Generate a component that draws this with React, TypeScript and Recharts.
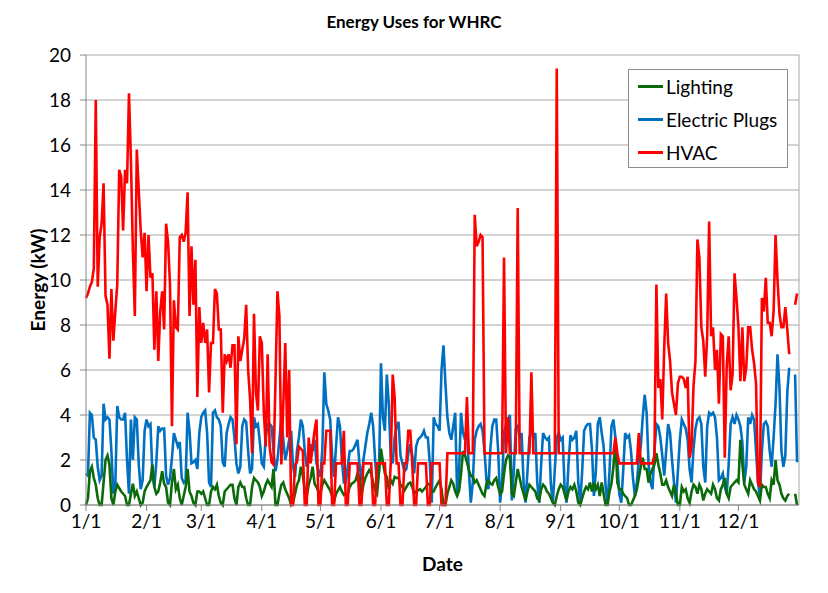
import React from 'react';
import { LineChart, Line, XAxis, YAxis, CartesianGrid, ReferenceLine, Label } from 'recharts';

const FONT = 'Lato, "Open Sans", sans-serif';

// x axis: day of year (0 = 1/1)
const monthStarts = [0, 31, 59, 90, 120, 151, 181, 212, 243, 273, 304, 334];
const monthLabels = ['1/1', '2/1', '3/1', '4/1', '5/1', '6/1', '7/1', '8/1', '9/1', '10/1', '11/1', '12/1'];
const yTicks = [0, 2, 4, 6, 8, 10, 12, 14, 16, 18, 20];

// Lighting (kW), one value per day
const lighting: (number | null)[] = [
  0, 0.3, 1.5, 1.7, 1.2, 0.9, 0.3, 0, 0, 1.0, 2.0, 2.2, 1.8, 0.3, 0, 0.6, 0.9, 0.75, 0.6, 0.5, 0.4, 0, 0, 0.5, 0.95, 0.4, 0.6, 0.3, 0, 0.1, 0.6,
  0.8, 0.95, 1.1, 1.8, 0.8, 0.5, 0.6, 1.0, 1.5, 0.95, 0.8, 0.1, 0, 1.0, 1.6, 0.7, 0.9, 0.3, 0, 0.4, 0.8, 1.6, 0.6, 0.4, 0.1, 0, 0.6, 0.6,
  0.5, 0.6, 0.3, 0, 0, 0.6, 0.8, 0.7, 0.9, 0.4, 0.1, 0, 0.6, 0.7, 0.8, 0.9, 0.9, 0.3, 0, 0.8, 1.0, 0.8, 0.8, 0.3, 0, 0, 0.8, 1.2, 1.1, 1.0, 0.8,
  0.4, 0.6, 0.9, 1.1, 0.95, 0.8, 1.6, 0, 0, 0.5, 0.9, 1.0, 0.7, 0.5, 0.3, 0, 0.1, 0.5, 0.9, 1.1, 1.7, 1.3, 0.7, 0.4, 0.9, 1.2, 1.7, 0.95, 0.8, 0.6,
  0.5, 0.9, 1.1, 0.95, 0.8, 0.65, 0.4, 0.15, 0.5, 0.65, 0.8, 0.6, 0.45, 0.5, 0.5, 0.8, 0.95, 1.0, 1.1, 1.4, 1.25, 0.4, 0.9, 1.2, 1.4, 1.55, 1.4, 1.0, 0.65, 0.5, 1.5,
  2.5, 1.9, 1.4, 1.25, 0.7, 1.1, 0.95, 1.25, 1.2, 1.2, 0.9, 0.8, 0.65, 0.8, 0.95, 1.0, 0.8, 0.5, 0.6, 0.65, 0.7, 0.6, 0.7, 0.8, 0.95, 0.9, 0.6, 0.6, 0.8, 0.95,
  1.1, 0.7, 0, 0, 0.5, 0.8, 1.1, 0.95, 0.6, 0.4, 0.65, 1.4, 2.4, 2.2, 1.9, 1.55, 1.3, 1.25, 1.0, 1.1, 0.9, 0.7, 0.5, 0.4, 0.95, 1.1, 0.95, 0.9, 1.1, 1.2, 0.8,
  0.5, 0.6, 1.4, 2.0, 2.2, 2.1, 0.5, 0.4, 1.0, 1.6, 1.2, 0.8, 0.5, 0.2, 0.6, 0.9, 0.8, 0.7, 0.6, 0.3, 0.2, 0.7, 0.9, 0.8, 0.6, 0.5, 0.3, 0.1, 0, 0.4, 0.7,
  0.9, 0.8, 0.5, 0.2, 0.6, 0.8, 0.7, 0.9, 0.6, 0.1, 0, 0.3, 0.6, 0.8, 0.7, 1.0, 0.6, 1.0, 0.7, 0.9, 0.4, 1.0, 0.5, 0, 0, 0.6, 0.95, 1.7, 2.9, 1.0,
  0.7, 0.7, 0.5, 0.4, 0.3, 0, 0, 0.2, 0.4, 0.7, 1.2, 1.7, 2.1, 1.6, 1.6, 1.0, 1.4, 1.6, 1.8, 2.3, 1.8, 1.4, 0.9, 0.9, 1.1, 0.8, 0.6, 0.4, 0.9, 0.5, 0,
  0, 0.8, 0.6, 0.7, 0.3, 0.1, 0.6, 0.9, 0.8, 0.5, 0.9, 0.7, 0.2, 0.5, 0.7, 0.6, 0.5, 0.9, 0.7, 0.3, 0.2, 0.7, 0.9, 1.2, 0.5, 0.3, 0.8, 0.9, 1.0, 1.1,
  1.0, 2.9, 1.8, 0.9, 0.7, 0.5, 1.1, 0.9, 0.7, 0.6, 0.4, 0.2, 0.9, 0.8, 0.8, 0.5, 0.3, 1.1, 0.9, 2.0, 1.1, 0.9, 0.5, 0.3, 0.2, 0.4, 0.5, null, null, 0.5, 0,
];

// Electric Plugs (kW)
const plugs: (number | null)[] = [
  1.4, 1.3, 4.1, 4.0, 3.0, 2.9, 1.7, 1.1, 1.3, 4.5, 3.8, 3.9, 3.8, 2.4, 0.5, 0.9, 4.4, 3.9, 3.8, 3.8, 4.1, 2.0, 0.5, 3.8, 2.0, 3.9, 3.8, 1.8, 0.7, 1.1, 3.3,
  3.8, 3.5, 3.6, 1.4, 0.8, 1.9, 3.5, 3.3, 3.4, 3.4, 1.3, 0.9, 1.2, 2.1, 3.2, 2.9, 2.6, 2.8, 1.2, 1.0, 1.1, 4.1, 3.3, 1.85, 1.9, 2.0, 1.6, 3.2,
  3.9, 4.1, 4.2, 3.2, 1.0, 0.8, 4.1, 4.2, 3.9, 3.8, 3.5, 1.9, 1.7, 3.2, 3.6, 3.9, 3.8, 3.0, 1.85, 1.4, 1.7, 3.5, 3.8, 3.7, 2.4, 1.4, 1.6, 3.9, 3.5, 3.6, 2.8,
  1.85, 1.7, 3.0, 3.6, 3.6, 3.5, 2.4, 1.5, 2.0, 2.9, 3.9, 2.9, 2.0, 2.4, 2.9, 3.3, 1.7, 1.25, 2.4, 3.0, 3.8, 3.5, 2.4, 1.7, 2.2, 2.7, 2.4, 2.9, 1.85, 1.5,
  1.25, 2.5, 5.9, 4.5, 4.2, 3.8, 2.2, 1.25, 2.6, 3.9, 3.5, 2.0, 1.0, 1.0, 1.7, 2.4, 2.4, 2.5, 2.7, 2.9, 1.8, 1.1, 2.0, 2.6, 3.2, 3.6, 4.1, 3.5, 2.0, 0.9, 1.5,
  6.3, 3.9, 3.3, 5.8, 4.5, 2.2, 1.85, 3.0, 3.5, 3.7, 2.2, 1.85, 1.5, 1.6, 2.3, 2.7, 2.2, 1.4, 2.6, 2.9, 3.0, 3.1, 3.3, 3.0, 3.0, 1.85, 0.1, 3.9, 3.6, 3.5,
  3.3, 6.0, 7.1, 5.4, 3.9, 3.2, 2.9, 3.5, 4.1, 0.5, 1.6, 4.1, 3.2, 2.9, 3.5, 1.5, 0.1, 1.0, 2.9, 3.3, 3.5, 3.6, 3.3, 2.4, 1.1, 0.7, 2.5, 3.5, 3.8, 3.8, 2.4,
  0.1, 1.0, 3.2, 3.6, 3.8, 4.0, 0.2, 1.5, 3.4, 3.5, 3.0, 3.2, 1.0, 0.1, 1.5, 3.0, 3.3, 3.0, 3.2, 1.0, 0.1, 1.8, 3.2, 3.0, 2.9, 3.0, 0.9, 0.1, 1.6, 3.0, 3.2,
  2.9, 3.0, 0.8, 0.1, 1.8, 3.1, 2.9, 3.0, 3.3, 1.0, 0.1, 1.5, 3.3, 3.5, 3.6, 3.6, 2.5, 0.4, 1.5, 3.6, 3.9, 3.2, 2.6, 0.8, 0.1, 1.5, 3.5, 3.8, 3.0, 2.0,
  0.5, 0.1, 1.5, 3.2, 3.0, 3.1, 2.4, 1.2, 0.4, 1.0, 2.0, 2.6, 3.9, 4.9, 4.1, 1.8, 1.0, 0.7, 2.4, 3.6, 3.5, 3.0, 2.2, 1.3, 2.4, 3.6, 3.2, 2.0, 1.0, 0.1, 1.5,
  2.9, 3.8, 3.6, 3.4, 2.9, 1.6, 1.0, 2.5, 3.4, 3.8, 3.9, 3.6, 1.7, 1.0, 3.5, 4.1, 4.0, 4.1, 3.9, 3.0, 1.1, 1.2, 1.4, 0.8, 0.5, 1.8, 3.6, 3.9, 3.6, 4.0,
  3.8, 3.5, 2.8, 1.0, 1.7, 3.9, 3.6, 4.0, 3.8, 2.4, 1.0, 0.4, 2.4, 3.6, 3.7, 3.5, 2.4, 1.7, 3.0, 4.5, 6.7, 5.2, 2.4, 1.7, 2.2, 5.0, 6.1, null, null, 5.8, 1.9,
];

// HVAC (kW)
const hvac: (number | null)[] = [
  9.2, 9.4, 9.7, 9.9, 10.5, 18.0, 9.7, 11.9, 12.5, 14.3, 9.3, 8.9, 6.5, 9.6, 7.3, 8.6, 9.8, 14.9, 14.6, 12.2, 14.9, 14.3, 18.3, 15.3, 11.3, 8.4, 15.8, 14.0, 12.2, 11.0, 12.1,
  9.5, 12.0, 10.1, 10.3, 6.9, 9.5, 6.4, 8.6, 9.5, 7.8, 12.5, 11.7, 9.8, 3.5, 9.1, 7.9, 7.8, 11.9, 12.0, 11.7, 12.1, 13.9, 8.4, 11.5, 8.9, 10.9, 4.8, 8.8,
  7.2, 8.1, 7.2, 7.8, 5.0, 7.2, 7.2, 9.6, 9.4, 7.8, 7.8, 4.1, 6.7, 6.4, 6.7, 6.1, 7.1, 7.1, 2.7, 7.5, 6.4, 6.9, 7.4, 8.9, 6.0, 4.7, 2.3, 8.5, 5.0, 4.2, 7.5,
  7.2, 4.2, 2.6, 6.7, 2.6, 1.9, 1.8, 5.5, 9.5, 8.4, 1.8, 4.5, 7.2, 3.0, 6.0, 0, 0, 1.8, 1.9, 2.6, 2.5, 2.4, 0, 0, 3.0, 1.85, 2.6, 3.3, 3.8, 0,
  0, 1.85, 1.85, 3.3, 3.3, 3.3, 0, 0, 1.85, 1.85, 1.85, 1.85, 3.3, 0, 0, 1.85, 1.85, 1.85, 1.85, 1.85, 0, 0, 1.85, 1.85, 1.85, 1.85, 1.85, 0, 0, 1.85, 1.85,
  1.85, 1.85, 1.85, 0, 0, 1.85, 5.8, 4.8, 1.85, 1.85, 0, 0, 1.85, 1.85, 3.3, 3.3, 1.85, 0, 0, 1.85, 1.85, 1.85, 1.85, 1.85, 0, 0, 1.85, 1.85, 1.85, 1.85,
  1.85, 0, 0, 0, 2.3, 2.3, 2.3, 2.3, 2.3, 2.3, 2.3, 2.3, 2.3, 2.3, 4.8, 2.3, 2.3, 2.3, 12.9, 11.5, 11.7, 12.0, 11.9, 2.3, 2.3, 2.3, 2.3, 2.3, 2.3, 2.3, 2.3,
  2.3, 2.3, 11.0, 2.3, 3.9, 2.3, 2.3, 2.3, 2.3, 13.2, 2.3, 2.3, 2.3, 2.3, 2.3, 2.3, 5.9, 2.3, 2.3, 2.3, 2.3, 2.3, 2.3, 2.3, 2.3, 2.3, 2.3, 2.3, 2.3, 19.4, 2.3,
  2.3, 2.3, 2.3, 2.3, 2.3, 2.3, 2.3, 2.3, 2.3, 2.3, 2.3, 2.3, 2.3, 2.3, 2.3, 2.3, 2.3, 2.3, 2.3, 2.3, 2.3, 2.3, 2.3, 2.3, 2.3, 2.3, 2.3, 2.3, 3.0, 2.3,
  1.85, 1.85, 1.85, 1.85, 1.85, 1.85, 1.85, 1.85, 1.85, 1.85, 3.2, 1.85, 1.85, 1.85, 1.85, 1.85, 1.85, 1.85, 2.2, 9.8, 5.2, 5.6, 3.8, 7.0, 9.4, 7.2, 6.4, 5.0, 4.5, 4.0, 5.4,
  5.7, 5.7, 5.6, 5.2, 5.7, 2.1, 2.6, 5.3, 6.4, 11.8, 11.0, 7.9, 7.3, 5.7, 7.5, 12.6, 7.5, 7.9, 6.0, 6.9, 4.5, 7.6, 7.5, 2.1, 6.2, 7.5, 5.1, 5.8, 10.3, 9.2,
  7.9, 5.5, 7.9, 5.5, 6.1, 7.9, 7.9, 6.9, 6.3, 5.4, 1.0, 0.8, 9.2, 8.6, 10.1, 8.1, 8.1, 7.5, 8.6, 12.0, 10.0, 8.5, 7.9, 7.9, 8.8, 7.8, 6.7, null, null, 8.9, 9.4,
];

const days = lighting.map((_, i) => i);
const data = days.map((d, i) => ({ day: d, lighting: lighting[i], plugs: plugs[i], hvac: hvac[i] }));

const series = [
  { key: 'lighting', name: 'Lighting', color: '#0b6b0b' },
  { key: 'plugs', name: 'Electric Plugs', color: '#0070c0' },
  { key: 'hvac', name: 'HVAC', color: '#ff0000' },
];

const GRID = '#a6a6a6';
const AXIS = '#868686';

export default function App() {
  return (
    <div style={{ position: 'relative', width: 812, height: 577, fontFamily: FONT, background: '#fff' }}>
      <div
        style={{
          position: 'absolute', top: 4, left: 0, width: 812, textAlign: 'center',
          fontWeight: 700, fontSize: 17, lineHeight: '20px', color: '#000',
        }}
      >
        Energy Uses for WHRC
      </div>
      <LineChart width={812} height={577} data={data} margin={{ top: 47, right: 21, bottom: 0, left: 0 }}>
        <CartesianGrid vertical={false} stroke={GRID} strokeWidth={1} />
        <XAxis
          dataKey="day"
          type="number"
          domain={[0, 365]}
          ticks={monthStarts}
          tickFormatter={(v: number) => monthLabels[monthStarts.indexOf(v)] ?? ''}
          height={80}
          axisLine={{ stroke: AXIS }}
          tickLine={{ stroke: AXIS }}
          tickSize={6}
          tickMargin={4}
          tick={{ fill: '#000', fontSize: 19, fontFamily: FONT }}
          interval={0}
        >
          <Label value="Date" position="insideBottom" offset={14} style={{ fontWeight: 700, fontSize: 19, fill: '#000', fontFamily: FONT }} />
        </XAxis>
        <YAxis
          domain={[0, 20]}
          ticks={yTicks}
          width={78}
          axisLine={{ stroke: AXIS }}
          tickLine={{ stroke: AXIS }}
          tickSize={6}
          tickMargin={9}
          tick={{ fill: '#000', fontSize: 19, fontFamily: FONT }}
          interval={0}
        >
          <Label
            content={() => (
              <text x={29} y={272} transform="rotate(-90 29 272)" textAnchor="middle" dominantBaseline="central"
                style={{ fontWeight: 700, fontSize: 19, fill: '#000', fontFamily: FONT }}>
                Energy (kW)
              </text>
            )}
          />
        </YAxis>
        <ReferenceLine x={365} stroke={GRID} />
        <Line type="linear" dataKey="plugs" stroke="#0070c0" strokeWidth={2.6} dot={false} isAnimationActive={false} />
        <Line type="linear" dataKey="lighting" stroke="#0b6b0b" strokeWidth={2.6} dot={false} isAnimationActive={false} />
        <Line type="linear" dataKey="hvac" stroke="#ff0000" strokeWidth={2.6} dot={false} isAnimationActive={false} />
      </LineChart>
      <div
        style={{
          position: 'absolute', left: 620, top: 61, width: 158, height: 97,
          border: '1px solid #8c8c8c', background: '#fff', boxSizing: 'content-box',
        }}
      >
        {series.map((s, i) => (
          <div key={s.key} style={{ position: 'absolute', left: 9, top: 5 + i * 33, height: 22, display: 'flex', alignItems: 'center' }}>
            <div style={{ width: 25, height: 3, background: s.color }} />
            <span style={{ marginLeft: 3, fontSize: 19, color: '#000', whiteSpace: 'nowrap' }}>{s.name}</span>
          </div>
        ))}
      </div>
    </div>
  );
}
